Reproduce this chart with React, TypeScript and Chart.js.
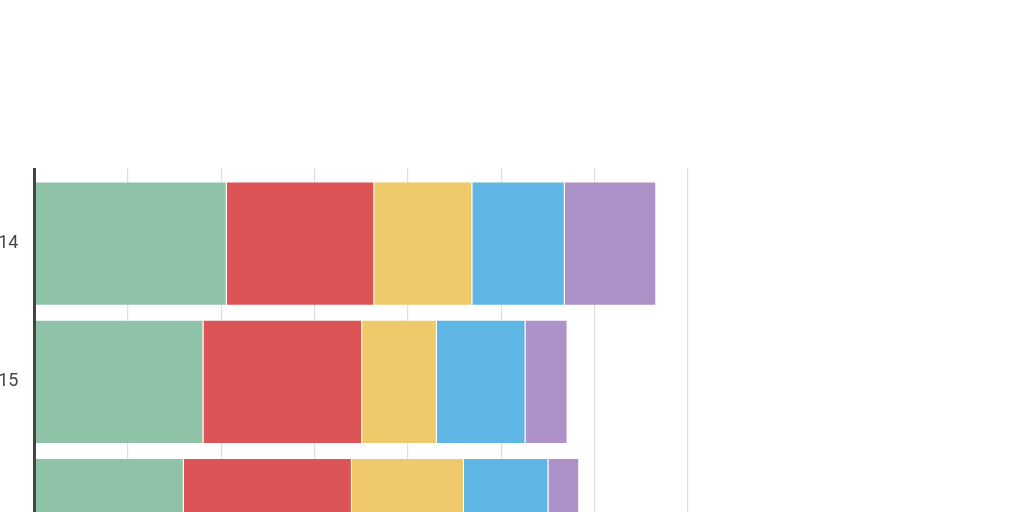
import React, { useEffect, useRef } from "react";
import { Chart, registerables } from "chart.js";

Chart.register(...registerables);

const categories = ["2014", "2015", "2016"];
const seriesNames = ["Series 1", "Series 2", "Series 3", "Series 4", "Series 5"];
const series1 = [20.6, 18.1, 16.0];
const series2 = [15.8, 17.0, 18.0];
const series3 = [10.5, 8.0, 12.0];
const series4 = [9.9, 9.5, 9.05];
const series5 = [9.8, 4.5, 3.3];
const seriesColors = ["#8FC3A8", "#DC5455", "#EFCA6B", "#5FB6E4", "#AC92C8"];
const xMax = 70;
const xStep = 10;

export default function App() {
  const ref = useRef<HTMLCanvasElement | null>(null);

  useEffect(() => {
    if (!ref.current) return;
    const values = [series1, series2, series3, series4, series5];
    const chart = new Chart(ref.current, {
      type: "bar",
      data: {
        labels: categories,
        datasets: values.map((v, i) => ({
          label: seriesNames[i],
          data: v,
          backgroundColor: seriesColors[i],
          borderColor: "rgba(255,255,255,0.2)",
          borderWidth: 1,
          barPercentage: 0.9,
          categoryPercentage: 1,
        })),
      },
      options: {
        indexAxis: "y",
        animation: false,
        responsive: true,
        maintainAspectRatio: false,
        layout: { padding: { top: 168, bottom: 0, left: 0, right: 336 } },
        plugins: {
          legend: { display: false },
          tooltip: { enabled: false },
          title: { display: false },
        },
        scales: {
          x: {
            position: "top",
            stacked: true,
            min: 0,
            max: xMax,
            ticks: { display: false, stepSize: xStep },
            border: { display: false },
            grid: {
              drawTicks: true,
              tickLength: 6.5,
              color: (ctx: any) => (ctx.index === 0 ? "#444444" : "#dddddd"),
              lineWidth: (ctx: any) => (ctx.index === 0 ? 3 : 1.2),
            },
          },
          y: {
            stacked: true,
            border: { display: false },
            grid: { display: false, drawTicks: false },
            ticks: {
              padding: 16,
              color: "#464646",
              font: { family: "Roboto", size: 18 },
            },
          },
        },
      },
    });
    return () => chart.destroy();
  }, []);

  return (
    <div
      style={{
        position: "fixed",
        left: 0,
        top: 0,
        width: 1024,
        height: 512,
        overflow: "hidden",
        background: "#ffffff",
      }}
    >
      <div style={{ position: "absolute", left: -38, top: 0, width: 1062, height: 616 }}>
        <canvas ref={ref} />
      </div>
    </div>
  );
}
